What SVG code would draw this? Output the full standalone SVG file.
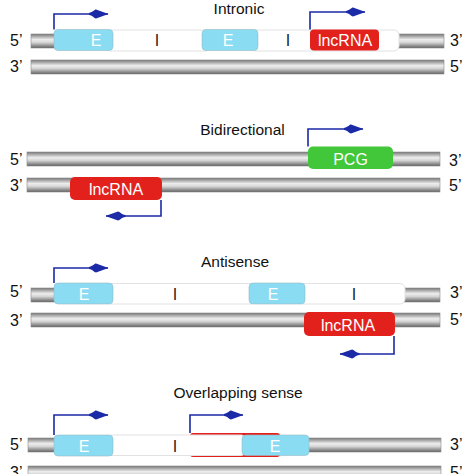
<svg xmlns="http://www.w3.org/2000/svg" width="474" height="474" viewBox="0 0 474 474">
<style>
.lbl{font-family:"Liberation Sans",Arial,sans-serif;font-size:16px;fill:#111}
.ttl{font-family:"Liberation Sans",Arial,sans-serif;font-size:15.5px;fill:#111;text-anchor:middle}
.bx{font-family:"Liberation Sans",Arial,sans-serif;font-size:16px;fill:#fff;text-anchor:middle}
.it{font-family:"Liberation Sans",Arial,sans-serif;font-size:16px;fill:#222;text-anchor:middle}
.strand{fill:url(#sg);stroke:#8a8a8a;stroke-width:0.6}
.exon{fill:#8adcf3;stroke:#9bbac4;stroke-width:0.6}
.intron{fill:#fff;stroke:#e2e2e2;stroke-width:1}
.lnc{fill:#e2211c}
.pcg{fill:#42c63a}
.arr{fill:none;stroke:#1b2aa6;stroke-width:1.6;marker-end:url(#ah)}
</style>
<defs>
<linearGradient id="sg" x1="0" y1="0" x2="0" y2="1">
<stop offset="0" stop-color="#777"/>
<stop offset="0.4" stop-color="#ededed"/>
<stop offset="0.6" stop-color="#d6d6d6"/>
<stop offset="1" stop-color="#626262"/>
</linearGradient>
<marker id="ah" viewBox="0 0 20 10" refX="19.5" refY="5" markerWidth="20" markerHeight="10" markerUnits="userSpaceOnUse" orient="auto">
<path d="M20,5 L7.5,0.6 C5.5,0.6 4.5,3.6 0,4.1 L0,5.9 C4.5,6.4 5.5,9.4 7.5,9.4 Z" fill="#1b2aa6"/>
</marker>
</defs>

<!-- Intronic -->
<g id="intronic">
<text class="ttl" x="239" y="14">Intronic</text>
<rect class="strand" x="31" y="34" width="413" height="14"/>
<rect class="strand" x="31" y="60" width="413" height="14"/>
<rect class="intron" x="106" y="30" width="104" height="21" rx="4" stroke="#f2f2f2"/>
<rect class="intron" x="250" y="30" width="149" height="21" rx="5"/>
<rect class="exon" x="54" y="29.5" width="59" height="21" rx="4"/>
<rect class="exon" x="202" y="29.5" width="56" height="21" rx="4"/>
<rect class="lnc" x="310" y="29.5" width="69" height="21" rx="4"/>
<text class="bx" x="96" y="45.5">E</text>
<text class="it" x="157" y="45.5">I</text>
<text class="bx" x="228" y="45.5">E</text>
<text class="it" x="288" y="45.5">I</text>
<text class="bx" x="345" y="45.5">lncRNA</text>
<text class="lbl" x="10" y="45.5">5’</text>
<text class="lbl" x="10" y="71.5">3’</text>
<text class="lbl" x="450" y="45.5">3’</text>
<text class="lbl" x="450" y="71.5">5’</text>
</g>

<!-- Bidirectional -->
<g id="bidirectional">
<text class="ttl" x="242.5" y="135">Bidirectional</text>
<rect class="strand" x="27" y="152" width="413" height="14"/>
<rect class="strand" x="27" y="178" width="413" height="14"/>
<rect class="pcg" x="308" y="146.5" width="85" height="22.5" rx="5"/>
<rect class="lnc" x="70" y="177" width="92" height="23" rx="5"/>
<text class="bx" x="350.5" y="164.5">PCG</text>
<text class="bx" x="116" y="194.5">lncRNA</text>
<text class="lbl" x="10" y="164.5">5’</text>
<text class="lbl" x="10" y="190.5">3’</text>
<text class="lbl" x="449" y="166">3’</text>
<text class="lbl" x="449" y="191">5’</text>
</g>

<!-- Antisense -->
<g id="antisense">
<text class="ttl" x="235" y="267">Antisense</text>
<rect class="strand" x="31" y="288" width="409" height="14"/>
<rect class="strand" x="31" y="313" width="409" height="14"/>
<rect class="intron" x="106" y="283.5" width="150" height="20.5" rx="5"/>
<rect class="intron" x="298" y="283.5" width="107" height="20.5" rx="5"/>
<rect class="exon" x="54" y="283" width="59" height="21" rx="4"/>
<rect class="exon" x="249" y="283" width="56" height="21" rx="4"/>
<rect class="lnc" x="304" y="312" width="91" height="24" rx="5"/>
<text class="bx" x="84" y="299.5">E</text>
<text class="it" x="175" y="299.5">I</text>
<text class="bx" x="273" y="299.5">E</text>
<text class="it" x="354" y="299.5">I</text>
<text class="bx" x="348" y="331">lncRNA</text>
<text class="lbl" x="10" y="297">5’</text>
<text class="lbl" x="10" y="326">3’</text>
<text class="lbl" x="450" y="298">3’</text>
<text class="lbl" x="450" y="325">5’</text>
</g>

<!-- Overlapping sense -->
<g id="overlapping-sense">
<text class="ttl" x="238" y="398">Overlapping sense</text>
<rect class="strand" x="28" y="438" width="413" height="14"/>
<rect class="strand" x="28" y="466" width="413" height="14"/>
<rect class="lnc" x="190" y="433" width="90" height="24" rx="3"/>
<rect class="intron" x="106" y="435" width="140" height="20.5" rx="5" stroke="#eaeaea"/>
<rect class="exon" x="54" y="435" width="59" height="21" rx="4"/>
<rect class="exon" x="242" y="435" width="67" height="20.5" rx="4"/>
<text class="bx" x="84" y="451.5">E</text>
<text class="it" x="175" y="451.5">I</text>
<text class="bx" x="275" y="451.5">E</text>
<text class="lbl" x="10" y="450">5’</text>
<text class="lbl" x="10" y="478">3’</text>
<text class="lbl" x="450" y="450">3’</text>
<text class="lbl" x="450" y="478">5’</text>
</g>

<g id="connectors">
<path class="arr" d="M54,29.5 V14 H108"/>
<path class="arr" d="M310,29.5 V12 H365"/>
<path class="arr" d="M308,146.5 V129 H363"/>
<path class="arr" d="M161,200 V216 H106"/>
<path class="arr" d="M54,283 V268 H108"/>
<path class="arr" d="M394,336 V354 H340"/>
<path class="arr" d="M54,435 V415 H108"/>
<path class="arr" d="M190,433 V415 H243"/>
</g>
</svg>
